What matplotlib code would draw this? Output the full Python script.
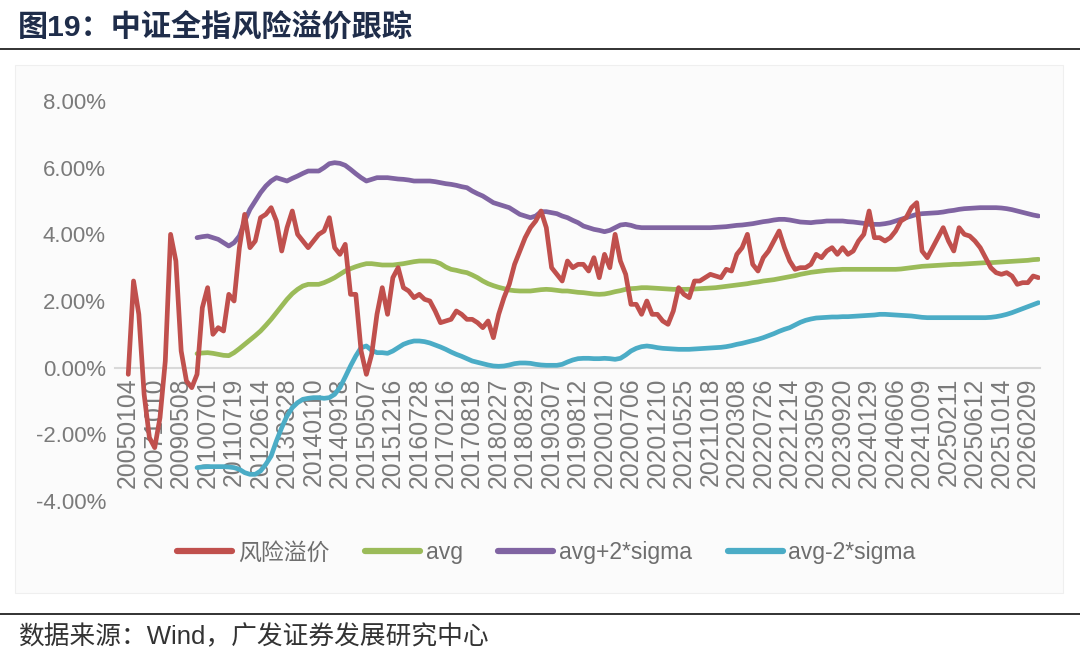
import numpy as np
import matplotlib.pyplot as plt
from matplotlib.ticker import FuncFormatter
from matplotlib.lines import Line2D
from matplotlib.patches import Rectangle

# fonts: latin first, CJK fallback for the chinese bits
plt.rcParams['font.family'] = ['Liberation Sans', 'Noto Sans CJK SC']

# category axis: one label every 5 points
date_labels = ['20050104', '20071010', '20090508', '20100701', '20110719',
               '20120614', '20130328', '20140110', '20140918', '20150507',
               '20151216', '20160728', '20170216', '20170818', '20180227',
               '20180829', '20190307', '20190812', '20200120', '20200706',
               '20201210', '20210525', '20211018', '20220308', '20220726',
               '20221214', '20230509', '20230920', '20240129', '20240606',
               '20241009', '20250211', '20250612', '20251014', '20260209']
label_step = 5

# 风险溢价 (%)
risk_premium = [
    -0.2, 2.6, 1.6, -0.8, -2.1, -2.4, -1.5, 0.2, 4.0, 3.2,
    0.5, -0.4, -0.6, -0.2, 1.8, 2.4, 1.0, 1.2, 1.1, 2.2,
    2.0, 3.6, 4.6, 3.6, 3.8, 4.5, 4.6, 4.8, 4.4, 3.5,
    4.2, 4.7, 4.0, 3.8, 3.6, 3.8, 4.0, 4.1, 4.5, 3.6,
    3.4, 3.7, 2.2, 2.2, 0.5, -0.2, 0.4, 1.6, 2.4, 1.6,
    2.7, 3.0, 2.4, 2.3, 2.1, 2.2, 2.05, 2.0, 1.7, 1.35,
    1.4, 1.45, 1.7, 1.6, 1.45, 1.45, 1.35, 1.2, 1.4, 0.9,
    1.6, 2.1, 2.5, 3.1, 3.5, 3.9, 4.2, 4.4, 4.7, 4.2,
    3.0, 2.8, 2.6, 3.2, 3.0, 3.1, 3.1, 2.9, 3.3, 2.7,
    3.4, 3.0, 4.0, 3.2, 2.8, 1.9, 1.9, 1.6, 2.0, 1.6,
    1.6, 1.4, 1.3, 1.7, 2.4, 2.2, 2.1, 2.6, 2.6, 2.7,
    2.8, 2.75, 2.7, 2.95, 2.9, 3.4, 3.6, 4.0, 3.1, 2.9,
    3.3, 3.5, 3.8, 4.1, 3.6, 3.2, 2.95, 3.0, 3.0, 3.1,
    3.4, 3.3, 3.5, 3.6, 3.4, 3.6, 3.4, 3.5, 3.8, 4.0,
    4.7, 3.9, 3.9, 3.8, 3.9, 4.1, 4.4, 4.5, 4.8, 4.95,
    3.5, 3.3, 3.6, 3.9, 4.2, 3.8, 3.5, 4.2, 4.0, 3.95,
    3.8, 3.6, 3.3, 3.0, 2.85, 2.8, 2.85, 2.75, 2.5, 2.55,
    2.55, 2.75, 2.7]

# the avg / sigma bands only start a bit later
band_start = 13
avg = [
    0.42, 0.44, 0.45, 0.43, 0.4, 0.37, 0.36, 0.45, 0.57, 0.7,
    0.83, 0.96, 1.1, 1.27, 1.45, 1.65, 1.85, 2.05, 2.22, 2.35,
    2.45, 2.5, 2.5, 2.5, 2.55, 2.62, 2.7, 2.8, 2.9, 2.97,
    3.03, 3.08, 3.12, 3.12, 3.1, 3.08, 3.08, 3.08, 3.1, 3.12,
    3.15, 3.18, 3.2, 3.2, 3.2, 3.18, 3.12, 3.02, 2.95, 2.92,
    2.88, 2.85, 2.78, 2.7, 2.6, 2.52, 2.46, 2.41, 2.37, 2.33,
    2.31, 2.3, 2.3, 2.3, 2.32, 2.34, 2.35, 2.34, 2.32, 2.3,
    2.3, 2.28, 2.26, 2.25, 2.23, 2.21, 2.2, 2.21, 2.24, 2.28,
    2.31, 2.35, 2.37, 2.38, 2.4, 2.4, 2.39, 2.38, 2.37, 2.36,
    2.35, 2.35, 2.35, 2.35, 2.36, 2.37, 2.38, 2.39, 2.4, 2.42,
    2.44, 2.46, 2.48, 2.5, 2.52, 2.55, 2.57, 2.6, 2.62, 2.64,
    2.67, 2.7, 2.73, 2.76, 2.8, 2.83, 2.86, 2.88, 2.9, 2.92,
    2.93, 2.94, 2.95, 2.95, 2.95, 2.95, 2.95, 2.95, 2.95, 2.95,
    2.95, 2.95, 2.95, 2.96, 2.98, 3.0, 3.02, 3.04, 3.05, 3.06,
    3.07, 3.08, 3.09, 3.1, 3.1, 3.11, 3.12, 3.13, 3.14, 3.15,
    3.15, 3.16, 3.17, 3.18, 3.19, 3.2, 3.21, 3.22, 3.24, 3.25]

avg_plus = [
    3.9, 3.93, 3.95, 3.9, 3.85, 3.75, 3.65, 3.75, 3.95, 4.4,
    4.75, 5.0, 5.25, 5.45, 5.6, 5.7, 5.65, 5.6, 5.68, 5.75,
    5.83, 5.9, 5.9, 5.9, 6.0, 6.12, 6.15, 6.13, 6.07, 5.95,
    5.82, 5.7, 5.6, 5.65, 5.7, 5.7, 5.7, 5.68, 5.66, 5.65,
    5.63, 5.6, 5.6, 5.6, 5.6, 5.58, 5.55, 5.52, 5.5, 5.47,
    5.43, 5.4, 5.3, 5.22, 5.15, 5.05, 4.95, 4.9, 4.85, 4.8,
    4.7, 4.6, 4.55, 4.5, 4.55, 4.68, 4.68, 4.65, 4.62, 4.55,
    4.5, 4.42, 4.35, 4.25, 4.2, 4.15, 4.12, 4.08, 4.12, 4.2,
    4.28, 4.3, 4.27, 4.22, 4.2, 4.2, 4.2, 4.2, 4.2, 4.2,
    4.2, 4.2, 4.2, 4.2, 4.2, 4.2, 4.2, 4.2, 4.21, 4.22,
    4.23, 4.25, 4.27, 4.28, 4.3, 4.32, 4.35, 4.38, 4.4, 4.43,
    4.45, 4.45, 4.43, 4.4, 4.37, 4.36, 4.35, 4.37, 4.38, 4.4,
    4.4, 4.4, 4.4, 4.38, 4.37, 4.35, 4.33, 4.3, 4.3, 4.3,
    4.32, 4.35, 4.4, 4.45, 4.5, 4.55, 4.6, 4.62, 4.63, 4.64,
    4.65, 4.67, 4.7, 4.72, 4.75, 4.77, 4.78, 4.79, 4.8, 4.8,
    4.8, 4.8, 4.79, 4.77, 4.74, 4.7, 4.66, 4.62, 4.58, 4.55]

avg_minus = [
    -3.0, -2.98, -2.97, -2.97, -2.97, -2.97, -2.98, -3.0, -3.05, -3.15,
    -3.2, -3.2, -3.1, -2.9, -2.65, -2.2, -1.8, -1.45, -1.2, -1.05,
    -0.95, -0.92, -0.9, -0.9, -0.92, -0.9, -0.8, -0.6, -0.28, 0.05,
    0.35, 0.6, 0.65, 0.52, 0.45, 0.45, 0.43, 0.5, 0.6, 0.7,
    0.76, 0.8, 0.8, 0.78, 0.74, 0.68, 0.62, 0.55, 0.47, 0.4,
    0.34, 0.27, 0.2, 0.16, 0.12, 0.08, 0.05, 0.04, 0.05, 0.08,
    0.12, 0.14, 0.14, 0.13, 0.1, 0.08, 0.07, 0.07, 0.07, 0.1,
    0.17, 0.23, 0.27, 0.28, 0.28, 0.27, 0.27, 0.28, 0.27, 0.25,
    0.28, 0.38, 0.5, 0.58, 0.63, 0.65, 0.63, 0.6, 0.58, 0.57,
    0.56, 0.55, 0.55, 0.55, 0.56, 0.57, 0.58, 0.59, 0.6, 0.61,
    0.63, 0.66, 0.7, 0.73, 0.77, 0.81, 0.85, 0.9, 0.96, 1.02,
    1.09, 1.15, 1.2, 1.28, 1.36, 1.42, 1.46, 1.49, 1.5, 1.51,
    1.52, 1.52, 1.53, 1.53, 1.54, 1.55, 1.56, 1.57, 1.58, 1.6,
    1.6, 1.59, 1.58, 1.57, 1.56, 1.55, 1.53, 1.51, 1.5, 1.5,
    1.5, 1.5, 1.5, 1.5, 1.5, 1.5, 1.5, 1.5, 1.5, 1.5,
    1.51, 1.53, 1.56, 1.6, 1.65, 1.71, 1.77, 1.83, 1.89, 1.95]

series_names = ['风险溢价', 'avg', 'avg+2*sigma', 'avg-2*sigma']
colors = ['#C0504D', '#9BBB59', '#8064A2', '#4BACC6']

fig = plt.figure(figsize=(10.8, 6.59), dpi=100)

# faint panel behind the chart (zorder below the axes!)
fig.patches.append(Rectangle((15/1080, 1 - 593/659), (1063 - 15)/1080,
                             (593 - 65)/659, transform=fig.transFigure,
                             facecolor='#fbfbfb', edgecolor='#efefef',
                             lw=0.8, zorder=-5))

ax = fig.add_axes([0.1065, 0.2398, 0.8565, 0.6069])
ax.patch.set_alpha(0)

x_red = np.arange(len(risk_premium))
x_band = np.arange(band_start, band_start + len(avg))

lw = 3.4
ax.plot(x_band, avg, color=colors[1], lw=lw, solid_joinstyle='round',
        solid_capstyle='round', zorder=3)
ax.plot(x_band, avg_plus, color=colors[2], lw=lw, solid_joinstyle='round',
        solid_capstyle='round', zorder=3)
ax.plot(x_band, avg_minus, color=colors[3], lw=lw, solid_joinstyle='round',
        solid_capstyle='round', zorder=3)
ax.plot(x_red, risk_premium, color=colors[0], lw=lw, solid_joinstyle='round',
        solid_capstyle='round', zorder=4)

ax.set_xlim(-2.5, 172.3)
ax.set_ylim(-4, 8)
ax.set_yticks([-4, -2, 0, 2, 4, 6, 8])
ax.yaxis.set_major_formatter(FuncFormatter(lambda v, _: '%.2f%%' % v))
ax.set_xticks(np.arange(len(date_labels)) * label_step, date_labels)

for s in ['top', 'right', 'left']:
    ax.spines[s].set_visible(False)
ax.spines['bottom'].set_position(('data', 0))
ax.spines['bottom'].set_color('#d9d9d9')
ax.spines['bottom'].set_linewidth(1.5)
ax.spines['bottom'].set_zorder(1)

ax.tick_params(axis='both', length=0, labelcolor='#7a7a7a')
ax.tick_params(axis='x', labelsize=17.8, pad=7, labelrotation=90)
ax.tick_params(axis='y', labelsize=16, pad=6.5)
for lbl in ax.get_xticklabels():
    lbl.set_va('top')
    lbl.set_ha('center')

# legend below the chart
handles = [Line2D([], [], color=c, lw=4.5, solid_capstyle='round') for c in colors]
fig.legend(handles, series_names, loc='center', bbox_to_anchor=(0.506, 0.161),
           ncol=4, frameon=False, fontsize=16.5, handlelength=2.4,
           handletextpad=0.25, columnspacing=1.55, labelcolor='#6e6e6e')

# title, rules and source line
fig.text(18/1080, 1 - 27/659, '图19：中证全指风险溢价跟踪', fontsize=21.7,
         fontweight='bold', color='#1f2d4a', va='center')
fig.add_artist(Line2D([0, 1], [0.925, 0.925], transform=fig.transFigure,
                      color='#222222', lw=1.3))
fig.add_artist(Line2D([0, 1], [0.0683, 0.0683], transform=fig.transFigure,
                      color='#222222', lw=1.3))
fig.text(18/1080, 1 - 637/659, '数据来源：Wind，广发证券发展研究中心',
         fontsize=18.5, color='#333333', va='center')

fig.savefig('out.png', dpi=100)
